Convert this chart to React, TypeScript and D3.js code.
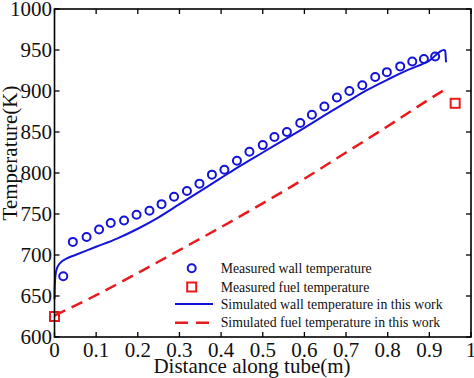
import React from "react";
import * as d3 from "d3";

const xTicks = [0, 0.1, 0.2, 0.3, 0.4, 0.5, 0.6, 0.7, 0.8, 0.9, 1];
const yTicks = [600, 650, 700, 750, 800, 850, 900, 950, 1000];

const measWallX = [0.021, 0.044, 0.077, 0.107, 0.135, 0.167, 0.197, 0.228, 0.257, 0.287, 0.318, 0.348, 0.378, 0.408, 0.438, 0.468, 0.5, 0.528, 0.558, 0.59, 0.618, 0.648, 0.678, 0.708, 0.739, 0.77, 0.798, 0.83, 0.859, 0.887, 0.914];
const measWallT = [674, 716, 722, 731, 739, 742, 749, 754, 762, 771, 778, 787, 798, 804, 815, 826, 834, 844, 850, 861, 871, 881, 892, 900, 907, 917, 923, 930, 936, 939, 942];

const measFuelX = [0, 0.962];
const measFuelT = [625, 885];

const simWallX = [0, 0.0005, 0.002, 0.006, 0.015, 0.03, 0.05, 0.1, 0.15, 0.2, 0.25, 0.3, 0.35, 0.4, 0.45, 0.5, 0.55, 0.6, 0.65, 0.7, 0.75, 0.8, 0.85, 0.9, 0.935, 0.938, 0.94];
const simWallT = [646, 660, 674, 684, 691, 696, 700, 710, 720, 732, 746, 762, 778, 794, 810, 825, 840, 855, 871, 886, 901, 914, 926, 937, 950, 949, 935];

const simFuelX = [0, 0.1, 0.2, 0.3, 0.4, 0.5, 0.6, 0.7, 0.8, 0.9, 0.935];
const simFuelT = [626, 651, 678, 706, 734, 763, 793, 825, 857, 890, 901];

const legendLabels = [
  "Measured wall temperature",
  "Measured fuel temperature",
  "Simulated wall temperature in this work",
  "Simulated fuel temperature in this work",
];

const BLUE = "#1414d8";
const RED = "#e81a1e";
const FONT = "'Liberation Serif', 'Times New Roman', serif";

export default function App() {
  const L = 54.5, R = 471, T = 9, B = 337;
  const x = d3.scaleLinear().domain([0, 1]).range([L, R]);
  const y = d3.scaleLinear().domain([600, 1000]).range([B, T]);

  const lineGen = d3
    .line<[number, number]>()
    .x((d) => x(d[0]))
    .y((d) => y(d[1]))
    .curve(d3.curveMonotoneX);

  const wallPath = lineGen(simWallX.map((v, i) => [v, simWallT[i]]) as [number, number][]) || "";
  const fuelPath = lineGen(simFuelX.map((v, i) => [v, simFuelT[i]]) as [number, number][]) || "";

  const legY = [268.3, 287, 304, 322.7];

  return (
    <svg width={474} height={378} style={{ display: "block", position: "absolute", left: 0, top: 0, background: "#fff" }}>
      <rect x={0} y={0} width={474} height={378} fill="#fff" />
      <path d={fuelPath} fill="none" stroke={RED} strokeWidth={2.5} strokeDasharray="12,7" />
      <path d={wallPath} fill="none" stroke={BLUE} strokeWidth={2} />
      {measWallX.map((v, i) => (
        <circle key={"c" + i} cx={x(v)} cy={y(measWallT[i])} r={4} fill="none" stroke={BLUE} strokeWidth={2} />
      ))}
      {measFuelX.map((v, i) => (
        <rect key={"s" + i} x={x(v) - 4.5} y={y(measFuelT[i]) - 4.5} width={9} height={9} fill="none" stroke={RED} strokeWidth={2} />
      ))}
      <rect x={L} y={T} width={R - L} height={B - T} fill="none" stroke="#000" strokeWidth={1.6} />
      {xTicks.map((t) => (
        <g key={"xt" + t}>
          <line x1={x(t)} x2={x(t)} y1={B} y2={B - 5} stroke="#000" strokeWidth={1.3} />
          <line x1={x(t)} x2={x(t)} y1={T} y2={T + 5} stroke="#000" strokeWidth={1.3} />
          <text x={x(t)} y={357} textAnchor="middle" fontFamily={FONT} fontSize={21} fill="#111">
            {String(t)}
          </text>
        </g>
      ))}
      {yTicks.map((t) => (
        <g key={"yt" + t}>
          <line x1={L} x2={L + 5} y1={y(t)} y2={y(t)} stroke="#000" strokeWidth={1.3} />
          <line x1={R} x2={R - 5} y1={y(t)} y2={y(t)} stroke="#000" strokeWidth={1.3} />
          <text x={52} y={y(t) + 7} textAnchor="end" fontFamily={FONT} fontSize={21} fill="#111">
            {String(t)}
          </text>
        </g>
      ))}
      <text x={252} y={373} textAnchor="middle" fontFamily={FONT} fontSize={21} fill="#111">
        Distance along tube(m)
      </text>
      <text
        transform={`translate(17,153) rotate(-90)`}
        textAnchor="middle"
        fontFamily={FONT}
        fontSize={21}
        fill="#111"
      >
        Temperature(K)
      </text>
      <circle cx={191.7} cy={legY[0]} r={4} fill="none" stroke={BLUE} strokeWidth={2} />
      <rect x={191.7 - 4.5} y={legY[1] - 4.5} width={9} height={9} fill="none" stroke={RED} strokeWidth={2} />
      <line x1={175} x2={213} y1={legY[2]} y2={legY[2]} stroke={BLUE} strokeWidth={2} />
      <line x1={175} x2={213} y1={legY[3]} y2={legY[3]} stroke={RED} strokeWidth={2.5} strokeDasharray="13,8" />
      {legendLabels.map((s, i) => (
        <text key={"lg" + i} x={220.7} y={legY[i] + 4.5} fontFamily={FONT} fontSize={13.8} fill="#111">
          {s}
        </text>
      ))}
    </svg>
  );
}
